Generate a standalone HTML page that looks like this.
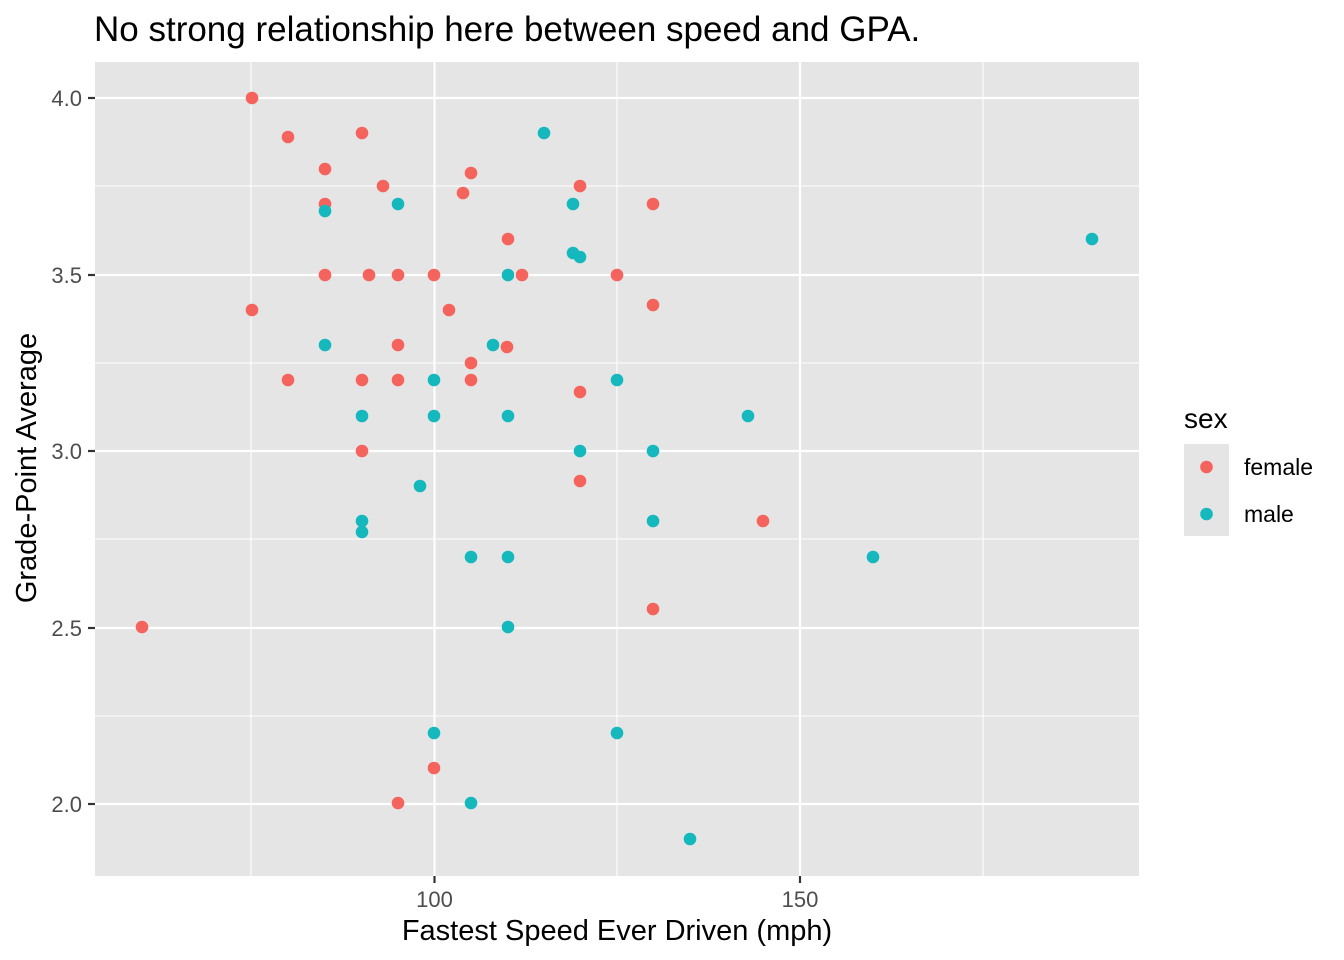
<!DOCTYPE html>
<html><head><meta charset="utf-8"><style>html,body{margin:0;padding:0;background:#fff}svg{display:block}</style></head>
<body>
<svg width="1344" height="960" xmlns="http://www.w3.org/2000/svg" font-family="Liberation Sans, Arial, sans-serif">
<rect width="1344" height="960" fill="#fff"/>
<text x="94" y="41" font-size="35" fill="#000">No strong relationship here between speed and GPA.</text>
<rect x="95" y="62" width="1044" height="814" fill="#e5e5e5"/>
<g stroke="#fff" stroke-width="1.1">
<line x1="95" x2="1139" y1="186" y2="186"/><line x1="95" x2="1139" y1="363" y2="363"/>
<line x1="95" x2="1139" y1="539" y2="539"/><line x1="95" x2="1139" y1="716" y2="716"/>
<line y1="62" y2="876" x1="251" x2="251"/><line y1="62" y2="876" x1="617" x2="617"/><line y1="62" y2="876" x1="983" x2="983"/>
</g>
<g stroke="#fff" stroke-width="2.2">
<line x1="95" x2="1139" y1="98" y2="98"/><line x1="95" x2="1139" y1="275" y2="275"/>
<line x1="95" x2="1139" y1="451" y2="451"/><line x1="95" x2="1139" y1="628" y2="628"/>
<line x1="95" x2="1139" y1="804" y2="804"/>
<line y1="62" y2="876" x1="434.5" x2="434.5"/><line y1="62" y2="876" x1="800" x2="800"/>
</g>
<g stroke="#333" stroke-width="2.2">
<line x1="88" x2="95" y1="98" y2="98"/><line x1="88" x2="95" y1="275" y2="275"/>
<line x1="88" x2="95" y1="451" y2="451"/><line x1="88" x2="95" y1="628" y2="628"/>
<line x1="88" x2="95" y1="804" y2="804"/>
<line y1="876" y2="883" x1="434.5" x2="434.5"/><line y1="876" y2="883" x1="800" x2="800"/>
</g>
<g font-size="22" fill="#4d4d4d" text-anchor="end">
<text x="82" y="106">4.0</text><text x="82" y="283">3.5</text><text x="82" y="459">3.0</text>
<text x="82" y="636">2.5</text><text x="82" y="812">2.0</text>
</g>
<g font-size="22" fill="#4d4d4d" text-anchor="middle">
<text x="434.5" y="907">100</text><text x="800" y="907">150</text>
</g>
<text x="617" y="940" font-size="29" text-anchor="middle" fill="#000">Fastest Speed Ever Driven (mph)</text>
<text transform="translate(36,468) rotate(-90)" font-size="29" text-anchor="middle" fill="#000">Grade-Point Average</text>
<g fill="#F5645C">
<circle cx="252" cy="98" r="6.3"/><circle cx="288" cy="137" r="6.3"/><circle cx="362" cy="133" r="6.3"/>
<circle cx="325" cy="169" r="6.3"/><circle cx="383" cy="186" r="6.3"/><circle cx="471" cy="173" r="6.3"/>
<circle cx="463" cy="193" r="6.3"/><circle cx="580" cy="186" r="6.3"/><circle cx="325" cy="204" r="6.3"/>
<circle cx="653" cy="204" r="6.3"/><circle cx="508" cy="239" r="6.3"/><circle cx="325" cy="275" r="6.3"/>
<circle cx="369" cy="275" r="6.3"/><circle cx="398" cy="275" r="6.3"/><circle cx="434" cy="275" r="6.3"/>
<circle cx="522" cy="275" r="6.3"/><circle cx="617" cy="275" r="6.3"/><circle cx="252" cy="310" r="6.3"/>
<circle cx="449" cy="310" r="6.3"/><circle cx="653" cy="305" r="6.3"/><circle cx="398" cy="345" r="6.3"/>
<circle cx="507" cy="347" r="6.3"/><circle cx="471" cy="363" r="6.3"/><circle cx="288" cy="380" r="6.3"/>
<circle cx="362" cy="380" r="6.3"/><circle cx="398" cy="380" r="6.3"/><circle cx="471" cy="380" r="6.3"/>
<circle cx="580" cy="392" r="6.3"/><circle cx="362" cy="451" r="6.3"/><circle cx="580" cy="481" r="6.3"/>
<circle cx="763" cy="521" r="6.3"/><circle cx="653" cy="609" r="6.3"/><circle cx="142" cy="627" r="6.3"/>
<circle cx="434" cy="768" r="6.3"/><circle cx="398" cy="803" r="6.3"/>
</g>
<g fill="#14B8BD">
<circle cx="544" cy="133" r="6.3"/><circle cx="325" cy="211" r="6.3"/><circle cx="398" cy="204" r="6.3"/>
<circle cx="573" cy="204" r="6.3"/><circle cx="573" cy="253" r="6.3"/><circle cx="580" cy="257" r="6.3"/>
<circle cx="1092" cy="239" r="6.3"/><circle cx="508" cy="275" r="6.3"/><circle cx="325" cy="345" r="6.3"/>
<circle cx="493" cy="345" r="6.3"/><circle cx="434" cy="380" r="6.3"/><circle cx="617" cy="380" r="6.3"/>
<circle cx="362" cy="416" r="6.3"/><circle cx="434" cy="416" r="6.3"/><circle cx="508" cy="416" r="6.3"/>
<circle cx="748" cy="416" r="6.3"/><circle cx="580" cy="451" r="6.3"/><circle cx="653" cy="451" r="6.3"/>
<circle cx="420" cy="486" r="6.3"/><circle cx="362" cy="521" r="6.3"/><circle cx="653" cy="521" r="6.3"/>
<circle cx="362" cy="532" r="6.3"/><circle cx="471" cy="557" r="6.3"/><circle cx="508" cy="557" r="6.3"/>
<circle cx="873" cy="557" r="6.3"/><circle cx="508" cy="627" r="6.3"/><circle cx="434" cy="733" r="6.3"/>
<circle cx="617" cy="733" r="6.3"/><circle cx="471" cy="803" r="6.3"/><circle cx="690" cy="839" r="6.3"/>
</g>
<text x="1184" y="428" font-size="28" fill="#000">sex</text>
<rect x="1184" y="444" width="45" height="92" fill="#e5e5e5"/>
<circle cx="1206.5" cy="467" r="6.3" fill="#F5645C"/>
<circle cx="1206.5" cy="514" r="6.3" fill="#14B8BD"/>
<text x="1244" y="475" font-size="23" fill="#000">female</text>
<text x="1244" y="522" font-size="23" fill="#000">male</text>
</svg>
</body></html>
